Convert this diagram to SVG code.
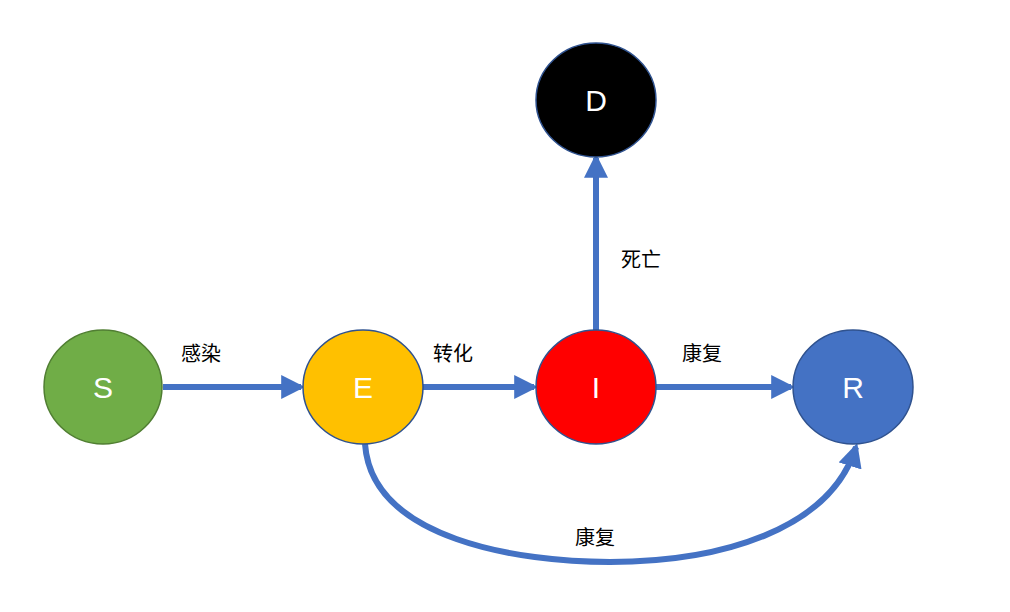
<svg xmlns="http://www.w3.org/2000/svg" width="1010" height="612" viewBox="0 0 1010 612">
<style>
.n{stroke:#2F528F;stroke-width:1.5}
.t{font-family:"Liberation Sans",Arial,sans-serif;font-size:30px;fill:#fff;text-anchor:middle;dominant-baseline:central}
.l{font-family:"Noto Sans CJK SC",sans-serif;font-size:20px;fill:#000;text-anchor:middle;dominant-baseline:central}
.c{stroke:#4472C4;stroke-width:6;fill:none}
</style>
<defs>
<marker id="a" markerWidth="4" markerHeight="4" refX="3.3" refY="2" orient="auto" markerUnits="strokeWidth">
<path d="M0,0L4,2L0,4z" fill="#4472C4"/>
</marker>
</defs>
<rect width="1010" height="612" fill="#fff"/>
<g id="connectors">
<line class="c" x1="163" y1="387" x2="301" y2="387" marker-end="url(#a)"/>
<line class="c" x1="423" y1="387" x2="534" y2="387" marker-end="url(#a)"/>
<line class="c" x1="656" y1="387" x2="791" y2="387" marker-end="url(#a)"/>
<line class="c" x1="596" y1="330" x2="596" y2="158" marker-end="url(#a)"/>
<path class="c" d="M365,444 C372,540 520,562 610,562 C720,562 830,530 856,447" marker-end="url(#a)"/>
<text class="l" x="201" y="352">感染</text>
<text class="l" x="453" y="352">转化</text>
<text class="l" x="702" y="352">康复</text>
<text class="l" x="641" y="258">死亡</text>
<text class="l" x="595" y="536">康复</text>
</g>
<g id="S"><ellipse class="n" cx="103" cy="387" rx="59" ry="57" fill="#70AD47" stroke="#507E32" style="stroke:#507E32"/><text class="t" x="103" y="387">S</text></g>
<g id="E"><ellipse class="n" cx="363" cy="387" rx="60" ry="57" fill="#FFC000"/><text class="t" x="363" y="387">E</text></g>
<g id="I"><ellipse class="n" cx="596" cy="387" rx="60" ry="57" fill="#FF0000"/><text class="t" x="596" y="387">I</text></g>
<g id="R"><ellipse class="n" cx="853" cy="387" rx="60" ry="57" fill="#4472C4"/><text class="t" x="853" y="387">R</text></g>
<g id="D"><ellipse class="n" cx="596" cy="100" rx="60" ry="57" fill="#000"/><text class="t" x="596" y="100">D</text></g>
</svg>
